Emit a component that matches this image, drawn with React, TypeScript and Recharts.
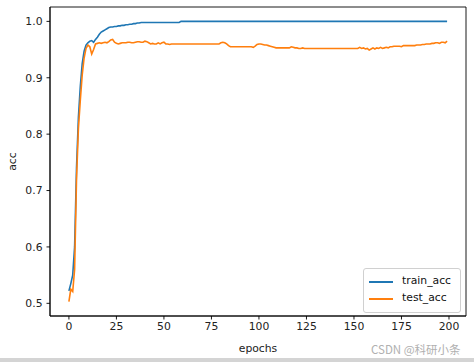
import React from "react";
import { LineChart, Line, XAxis, YAxis, Legend, Label, ReferenceArea } from "recharts";

const trainAcc: number[] = [
  0.522, 0.535, 0.55, 0.6, 0.74, 0.83, 0.885, 0.925, 0.947, 0.958,
  0.962, 0.965, 0.966, 0.963, 0.968, 0.972, 0.977, 0.981, 0.983, 0.985,
  0.987, 0.989, 0.99, 0.99, 0.991, 0.991, 0.992, 0.992, 0.993, 0.993,
  0.994, 0.994, 0.995, 0.995, 0.996, 0.996, 0.997, 0.997, 0.998, 0.998,
  0.998, 0.998, 0.998, 0.998, 0.998, 0.998, 0.998, 0.998, 0.998, 0.998,
  0.998, 0.998, 0.998, 0.998, 0.998, 0.998, 0.998, 0.998, 0.998, 1.0,
  1.0, 1.0, 1.0, 1.0, 1.0, 1.0, 1.0, 1.0, 1.0, 1.0,
  1.0, 1.0, 1.0, 1.0, 1.0, 1.0, 1.0, 1.0, 1.0, 1.0,
  1.0, 1.0, 1.0, 1.0, 1.0, 1.0, 1.0, 1.0, 1.0, 1.0,
  1.0, 1.0, 1.0, 1.0, 1.0, 1.0, 1.0, 1.0, 1.0, 1.0,
  1.0, 1.0, 1.0, 1.0, 1.0, 1.0, 1.0, 1.0, 1.0, 1.0,
  1.0, 1.0, 1.0, 1.0, 1.0, 1.0, 1.0, 1.0, 1.0, 1.0,
  1.0, 1.0, 1.0, 1.0, 1.0, 1.0, 1.0, 1.0, 1.0, 1.0,
  1.0, 1.0, 1.0, 1.0, 1.0, 1.0, 1.0, 1.0, 1.0, 1.0,
  1.0, 1.0, 1.0, 1.0, 1.0, 1.0, 1.0, 1.0, 1.0, 1.0,
  1.0, 1.0, 1.0, 1.0, 1.0, 1.0, 1.0, 1.0, 1.0, 1.0,
  1.0, 1.0, 1.0, 1.0, 1.0, 1.0, 1.0, 1.0, 1.0, 1.0,
  1.0, 1.0, 1.0, 1.0, 1.0, 1.0, 1.0, 1.0, 1.0, 1.0,
  1.0, 1.0, 1.0, 1.0, 1.0, 1.0, 1.0, 1.0, 1.0, 1.0,
  1.0, 1.0, 1.0, 1.0, 1.0, 1.0, 1.0, 1.0, 1.0, 1.0,
];

const testAcc: number[] = [
  0.503, 0.525, 0.521, 0.56, 0.72, 0.81, 0.86, 0.905, 0.935, 0.952,
  0.958, 0.955, 0.942, 0.95, 0.96, 0.961, 0.962, 0.961, 0.962, 0.963,
  0.962, 0.964, 0.967, 0.968, 0.963, 0.961, 0.96, 0.961, 0.962, 0.962,
  0.962, 0.963, 0.963, 0.962, 0.962, 0.963, 0.964, 0.964, 0.963, 0.963,
  0.965, 0.964, 0.962, 0.96, 0.961, 0.96, 0.96, 0.962, 0.96, 0.962,
  0.963, 0.96, 0.96, 0.959, 0.96, 0.96, 0.96, 0.96, 0.96, 0.96,
  0.96, 0.96, 0.96, 0.96, 0.96, 0.96, 0.96, 0.96, 0.96, 0.96,
  0.96, 0.96, 0.96, 0.96, 0.96, 0.96, 0.96, 0.96, 0.96, 0.96,
  0.962, 0.963, 0.962, 0.96, 0.957, 0.955, 0.955, 0.955, 0.955, 0.955,
  0.955, 0.955, 0.955, 0.955, 0.955, 0.955, 0.955, 0.954, 0.956, 0.959,
  0.96, 0.96, 0.959, 0.958, 0.958, 0.957, 0.956, 0.955, 0.954, 0.953,
  0.953, 0.953, 0.953, 0.953, 0.953, 0.953, 0.953, 0.955, 0.954, 0.953,
  0.953, 0.952, 0.952, 0.953, 0.952, 0.952, 0.952, 0.952, 0.952, 0.952,
  0.952, 0.952, 0.952, 0.952, 0.952, 0.952, 0.952, 0.952, 0.952, 0.952,
  0.952, 0.952, 0.952, 0.952, 0.952, 0.952, 0.952, 0.952, 0.952, 0.952,
  0.952, 0.952, 0.952, 0.954, 0.952, 0.953, 0.951, 0.952, 0.949, 0.951,
  0.953, 0.951, 0.953, 0.952, 0.954, 0.952, 0.953, 0.954, 0.953, 0.955,
  0.955, 0.956, 0.956, 0.956, 0.956, 0.955, 0.957, 0.957, 0.957, 0.957,
  0.957, 0.957, 0.957, 0.958, 0.958, 0.958, 0.959, 0.959, 0.96, 0.96,
  0.96, 0.961, 0.961, 0.962, 0.962, 0.961, 0.963, 0.963, 0.962, 0.965,
];

const xTicks: number[] = [0, 25, 50, 75, 100, 125, 150, 175, 200];
const yTicks: number[] = [0.5, 0.6, 0.7, 0.8, 0.9, 1.0];
const seriesNames = { train: "train_acc", test: "test_acc" };
const watermark = "CSDN @科研小条";

const X_DOMAIN: [number, number] = [-9.95, 208.95];
const Y_DOMAIN: [number, number] = [0.4775, 1.0255];

const data = trainAcc.map((v, i) => ({ epoch: i, train: v, test: testAcc[i] }));

const FONT = "'DejaVu Sans', sans-serif";
const FS = 10.8;
const tickStyle = { fontFamily: FONT, fontSize: FS, fill: "#222" };

const LegendBox = () => (
  <div
    style={{
      width: 98,
      height: 45,
      border: "1px solid #d0d0d0",
      borderRadius: 3,
      background: "rgba(255,255,255,0.85)",
      boxSizing: "border-box",
      fontFamily: FONT,
      fontSize: FS,
      color: "#111",
      position: "relative",
    }}
  >
    {[
      { name: seriesNames.train, color: "#1f77b4", top: 13 },
      { name: seriesNames.test, color: "#ff7f0e", top: 30 },
    ].map((e) => (
      <div key={e.name}>
        <div
          style={{
            position: "absolute",
            left: 5,
            top: e.top - 1,
            width: 24,
            height: 1.6,
            background: e.color,
          }}
        />
        <div
          style={{
            position: "absolute",
            left: 38,
            top: e.top - 8,
            lineHeight: "14px",
            whiteSpace: "nowrap",
          }}
        >
          {e.name}
        </div>
      </div>
    ))}
  </div>
);

export default function App() {
  return (
    <div
      style={{
        position: "absolute",
        left: 0,
        top: 0,
        width: 474,
        height: 362,
        background: "#fff",
        overflow: "hidden",
      }}
    >
      <LineChart
        width={474}
        height={362}
        data={data}
        margin={{ top: 7, right: 8, bottom: 0, left: 0 }}
      >
        <ReferenceArea
          x1={X_DOMAIN[0]}
          x2={X_DOMAIN[1]}
          y1={Y_DOMAIN[0]}
          y2={Y_DOMAIN[1]}
          fill="none"
          fillOpacity={0}
          stroke="#000"
          strokeWidth={0.9}
          strokeOpacity={1}
          ifOverflow="visible"
        />
        <XAxis
          dataKey="epoch"
          type="number"
          domain={X_DOMAIN}
          ticks={xTicks}
          height={46}
          tick={tickStyle}
          tickSize={3.5}
          tickMargin={3}
          stroke="#000"
          axisLine={{ stroke: "#000", strokeWidth: 0.9 }}
          tickLine={{ stroke: "#000", strokeWidth: 0.9 }}
          allowDataOverflow
        >
          <Label
            value="epochs"
            position="insideBottom"
            offset={10}
            style={{ fontFamily: FONT, fontSize: FS, fill: "#222" }}
          />
        </XAxis>
        <YAxis
          type="number"
          domain={Y_DOMAIN}
          ticks={yTicks}
          width={50}
          tick={tickStyle}
          tickSize={3.5}
          tickMargin={4}
          tickFormatter={(v: number) => v.toFixed(1)}
          axisLine={{ stroke: "#000", strokeWidth: 0.9 }}
          tickLine={{ stroke: "#000", strokeWidth: 0.9 }}
          allowDataOverflow
        >
          <Label
            value="acc"
            angle={-90}
            position="insideLeft"
            offset={12}
            style={{ fontFamily: FONT, fontSize: FS, fill: "#222", textAnchor: "middle" }}
          />
        </YAxis>
        <Line
          dataKey="train"
          name={seriesNames.train}
          stroke="#1f77b4"
          strokeWidth={1.6}
          dot={false}
          isAnimationActive={false}
        />
        <Line
          dataKey="test"
          name={seriesNames.test}
          stroke="#ff7f0e"
          strokeWidth={1.6}
          dot={false}
          isAnimationActive={false}
        />
        <Legend
          layout="vertical"
          align="center"
          verticalAlign="middle"
          content={() => <LegendBox />}
          wrapperStyle={{ left: 363, top: 268, width: 98, height: 45 }}
        />
      </LineChart>
      <div
        style={{
          position: "absolute",
          left: 371,
          top: 342,
          fontFamily: "'Noto Sans CJK SC', 'Noto Sans', sans-serif",
          fontSize: 11.5,
          color: "#b0b0b0",
          whiteSpace: "nowrap",
          lineHeight: "14px",
        }}
      >
        {watermark}
      </div>
      <div
        style={{
          position: "absolute",
          left: 0,
          top: 358,
          width: 474,
          height: 4,
          background: "#d4d4d4",
        }}
      />
    </div>
  );
}
